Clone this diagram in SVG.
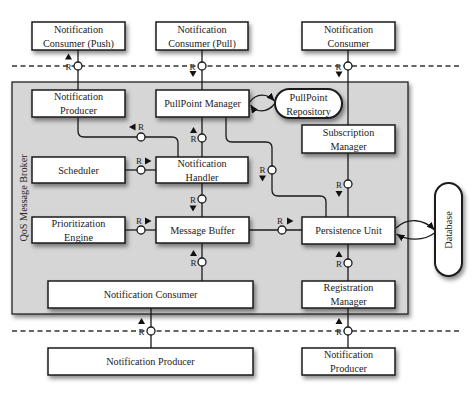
<svg xmlns="http://www.w3.org/2000/svg" xmlns:xlink="http://www.w3.org/1999/xlink" width="474" height="405" viewBox="0 0 474 405">
<style>
.box{fill:#fff;stroke:#1a1a1a;stroke-width:1.5;filter:url(#sh)}
.pill{fill:#fff;stroke:#1a1a1a;stroke-width:2;filter:url(#sh)}
.t{font-family:"Liberation Serif","Times New Roman",serif;font-size:10.2px;fill:#222;text-anchor:middle}
.r{font-family:"Liberation Serif","Times New Roman",serif;font-size:9px;fill:#222;text-anchor:middle}
.ln{fill:none;stroke:#1a1a1a;stroke-width:1.3}
.lp{fill:#fff;stroke:#1a1a1a;stroke-width:1.3}
.dash{stroke:#333;stroke-width:1.3;stroke-dasharray:5 3.5}
.tri{fill:#111}
.arr{fill:none;stroke:#1a1a1a;stroke-width:1.3;marker-end:url(#ah)}
</style>
<defs>
<filter id="sh" x="-20%" y="-20%" width="150%" height="160%">
<feDropShadow dx="2" dy="3" stdDeviation="2" flood-color="#000" flood-opacity="0.45"/>
</filter>
<path id="tu" class="tri" d="M0,-3 L3.5,3 L-3.5,3 Z"/>
<path id="td" class="tri" d="M0,3 L3.5,-3 L-3.5,-3 Z"/>
<path id="tr" class="tri" d="M3.5,0 L-3,-3.5 L-3,3.5 Z"/>
<path id="tl" class="tri" d="M-3.5,0 L3,-3.5 L3,3.5 Z"/>
<marker id="ah" markerUnits="userSpaceOnUse" markerWidth="8" markerHeight="7" refX="8" refY="3.5" orient="auto">
<path d="M0,0 L8,3.5 L0,7 Z" fill="#111"/>
</marker>
</defs>
<rect width="474" height="405" fill="#fff"/>

<g id="separators">
<line class="dash" x1="12" y1="66" x2="462" y2="66"/>
<line class="dash" x1="12" y1="331" x2="462" y2="331"/>
</g>

<g id="broker">
<rect x="12" y="82" width="396" height="232" fill="#d6d6d6" stroke="#222" stroke-width="1.3" filter="url(#sh)"/>
<text class="t" transform="translate(26.5,198) rotate(-90)">QoS Message Broker</text>
</g>

<g id="nc-push"><rect class="box" x="32" y="22" width="93" height="28"/><text class="t" x="78.5" y="33">Notification</text><text class="t" x="78.5" y="47">Consumer (Push)</text></g>
<g id="nc-pull"><rect class="box" x="156" y="22" width="92" height="28"/><text class="t" x="202" y="33">Notification</text><text class="t" x="202" y="47">Consumer (Pull)</text></g>
<g id="nc-top"><rect class="box" x="302" y="22" width="93" height="28"/><text class="t" x="348.5" y="33">Notification</text><text class="t" x="348.5" y="47">Consumer</text></g>

<g id="np-in"><rect class="box" x="32" y="90" width="93" height="27"/><text class="t" x="78.5" y="100">Notification</text><text class="t" x="78.5" y="114">Producer</text></g>
<g id="ppm"><rect class="box" x="156" y="90" width="93" height="27"/><text class="t" x="202.5" y="107">PullPoint Manager</text></g>
<g id="ppr"><rect class="pill" x="275" y="89" width="67" height="29" rx="14.5"/><text class="t" x="308.5" y="101">PullPoint</text><text class="t" x="308.5" y="115">Repository</text></g>
<g id="sm"><rect class="box" x="302" y="125" width="93" height="28"/><text class="t" x="348.5" y="136">Subscription</text><text class="t" x="348.5" y="149.5">Manager</text></g>
<g id="sched"><rect class="box" x="32" y="157" width="93" height="26"/><text class="t" x="78.5" y="173.5">Scheduler</text></g>
<g id="nh"><rect class="box" x="156" y="157" width="92" height="26"/><text class="t" x="202" y="167">Notification</text><text class="t" x="202" y="180.5">Handler</text></g>
<g id="pe"><rect class="box" x="32" y="217" width="93" height="26"/><text class="t" x="78.5" y="227">Prioritization</text><text class="t" x="78.5" y="240.5">Engine</text></g>
<g id="mb"><rect class="box" x="156" y="217" width="93" height="26"/><text class="t" x="202.5" y="233.5">Message Buffer</text></g>
<g id="pu"><rect class="box" x="302" y="217" width="93" height="27"/><text class="t" x="348.5" y="234">Persistence Unit</text></g>
<g id="nc-in"><rect class="box" x="48" y="281" width="205" height="27"/><text class="t" x="150.5" y="298">Notification Consumer</text></g>
<g id="rm"><rect class="box" x="302" y="281" width="93" height="27"/><text class="t" x="348.5" y="291">Registration</text><text class="t" x="348.5" y="304.5">Manager</text></g>
<g id="np-bl"><rect class="box" x="48" y="348" width="205" height="27"/><text class="t" x="150.5" y="365">Notification Producer</text></g>
<g id="np-br"><rect class="box" x="302" y="348" width="93" height="27"/><text class="t" x="348.5" y="358">Notification</text><text class="t" x="348.5" y="371.5">Producer</text></g>
<g id="db"><rect class="pill" x="435" y="183" width="27" height="93" rx="13.5"/><text class="t" transform="translate(452,230) rotate(-90)">Database</text></g>

<g id="connectors">
<line class="ln" x1="78" y1="50" x2="78" y2="90"/>
<line class="ln" x1="202" y1="50" x2="202" y2="90"/>
<line class="ln" x1="348" y1="50" x2="348" y2="125"/>
<line class="ln" x1="202" y1="117" x2="202" y2="157"/>
<path class="ln" d="M78,117 V131 Q78,137 84,137 H172 Q178,137 178,143 V157"/>
<line class="ln" x1="125" y1="170" x2="156" y2="170"/>
<line class="ln" x1="202" y1="183" x2="202" y2="217"/>
<line class="ln" x1="125" y1="230" x2="156" y2="230"/>
<line class="ln" x1="249" y1="230" x2="302" y2="230"/>
<line class="ln" x1="202" y1="243" x2="202" y2="281"/>
<path class="ln" d="M226,117 V136 Q226,142 232,142 H266 Q272,142 272,148 V190 Q272,196 278,196 H320 Q326,196 326,202 V217"/>
<line class="ln" x1="348" y1="153" x2="348" y2="217"/>
<line class="ln" x1="348" y1="244" x2="348" y2="281"/>
<line class="ln" x1="151" y1="308" x2="151" y2="348"/>
<line class="ln" x1="348" y1="308" x2="348" y2="348"/>

<path class="arr" d="M250,102 C256,93 267,93 274.5,101"/>
<path class="arr" d="M274.5,104 C267,113 256,113 250.5,105"/>
<path class="arr" d="M396,228 C408,217 424,219 434.5,230"/>
<path class="arr" d="M434.5,233 C424,241 408,241 396.5,234"/>

<circle class="lp" cx="78" cy="66" r="4"/>
<circle class="lp" cx="202" cy="66" r="4"/>
<circle class="lp" cx="348" cy="66" r="4"/>
<circle class="lp" cx="202" cy="138" r="4"/>
<circle class="lp" cx="141" cy="137" r="4"/>
<circle class="lp" cx="141" cy="170" r="4"/>
<circle class="lp" cx="202" cy="199" r="4"/>
<circle class="lp" cx="141" cy="230" r="4"/>
<circle class="lp" cx="282" cy="230" r="4"/>
<circle class="lp" cx="202" cy="262" r="4"/>
<circle class="lp" cx="272" cy="170" r="4"/>
<circle class="lp" cx="348" cy="184" r="4"/>
<circle class="lp" cx="348" cy="263" r="4"/>
<circle class="lp" cx="151" cy="331" r="4"/>
<circle class="lp" cx="348" cy="331" r="4"/>

<text class="r" x="68.5" y="69.5">R</text><use href="#tu" x="68.5" y="56.5"/>
<text class="r" x="192.5" y="69.5">R</text><use href="#td" x="193" y="74"/>
<text class="r" x="338.5" y="69.5">R</text><use href="#td" x="339" y="74.5"/>
<text class="r" x="193.5" y="142">R</text><use href="#tu" x="193.5" y="130"/>
<text class="r" x="141" y="130">R</text><use href="#tl" x="132.5" y="127"/>
<text class="r" x="139" y="164">R</text><use href="#tr" x="148" y="161"/>
<text class="r" x="193" y="202.5">R</text><use href="#td" x="193" y="208.5"/>
<text class="r" x="139" y="224">R</text><use href="#tr" x="148" y="221"/>
<text class="r" x="280" y="224">R</text><use href="#tr" x="290" y="221"/>
<text class="r" x="193.5" y="266">R</text><use href="#tu" x="193.5" y="253"/>
<text class="r" x="262.5" y="172.5">R</text><use href="#td" x="262.5" y="178.5"/>
<text class="r" x="339" y="187.5">R</text><use href="#td" x="339" y="194"/>
<text class="r" x="339" y="266.5">R</text><use href="#tu" x="339" y="254"/>
<text class="r" x="141.5" y="334.5">R</text><use href="#tu" x="141.5" y="321"/>
<text class="r" x="339" y="334.5">R</text><use href="#tu" x="339" y="321"/>
</g>
</svg>
